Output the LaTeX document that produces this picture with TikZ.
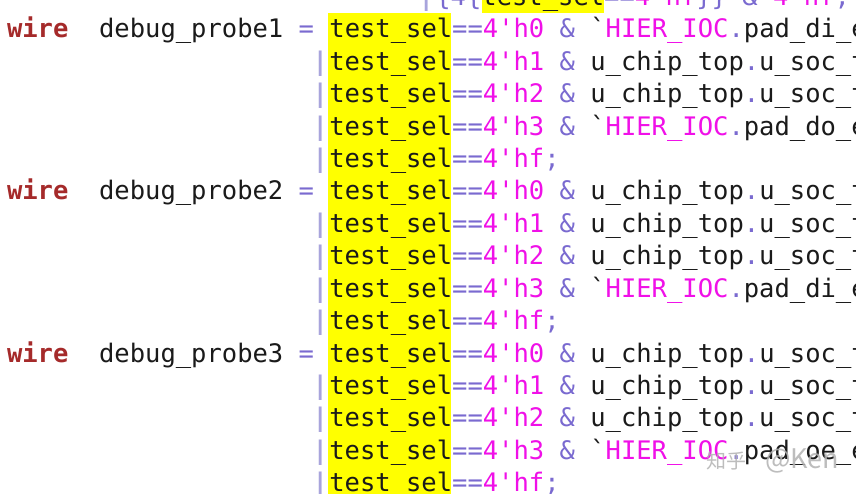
\documentclass[tikz,border=0pt]{standalone}
\usepackage{fontspec}
\newfontfamily\codefont{DejaVu Sans Mono}
\newfontfamily\markfont{Noto Sans CJK SC}
\definecolor{kw}{HTML}{A52A2A}
\definecolor{op}{HTML}{7A6AD0}
\definecolor{barc}{HTML}{A8A4DC}
\definecolor{num}{HTML}{F010E8}
\definecolor{txt}{HTML}{1A1A1A}
\definecolor{hl}{HTML}{FFFF00}
\tikzset{
  code/.style={anchor=base west,inner sep=0pt,outer sep=0pt,text=txt,font=\fontsize{25.5pt}{25.5pt}\selectfont\codefont},
  hlbox/.style={fill=hl,draw=none},
  wmark/.style={anchor=base west,inner sep=0pt,text=gray!60,text opacity=.85,font=\fontsize{20pt}{20pt}\selectfont\markfont}
}
\newlength{\cw}
\setlength{\cw}{15.35pt}
\newcommand{\Kw}{\textcolor{kw}{\textbf{wire}}}
\newcommand{\Op}[1]{\textcolor{op}{#1}}
\newcommand{\Nm}[1]{\textcolor{num}{#1}}
\newcommand{\Sel}{test\_sel}
\newcommand{\Cmp}[1]{\Sel\Op{==}\Nm{4'h#1}}
\newcommand{\Chip}{u\_chip\_top\Op{.}u\_soc\_t}
\newcommand{\Ioc}[1]{\symbol{96}\Nm{HIER\_IOC}\Op{.}pad\_#1\_e}
\newcommand{\Head}[1]{\Kw\ \ debug\_probe#1 \Op{=}\ }
\newcommand{\Pipe}{\makebox[\cw][c]{\hspace*{-3pt}\textcolor{barc}{\textbf{|}}}}
\newcommand{\Bar}{\hspace*{20\cw}\Pipe}
\begin{document}
\begin{tikzpicture}[x=1pt,y=-1pt]
\useasboundingbox (0,0) rectangle (856,494);
\clip (0,0) rectangle (856,494);
\fill[white] (0,0) rectangle (856,494);
\fill[hlbox] (481.5,0) rectangle (604,13);
\fill[hlbox] (328,13) rectangle (451,494);
\def\xs{7}
\node[code] (r0) at (420,6) {\Pipe\Op{\{4\{}\Sel\Op{==}\Nm{4'hf}\Op{\}\}}\ \Op{\&}\ \Nm{4'hf}\Op{;}};
\node[code] (r1) at (\xs,38) {\Head{1}\Cmp{0} \Op{\&} \Ioc{di}};
\node[code] (r2) at (\xs,70.4) {\Bar\Cmp{1} \Op{\&} \Chip};
\node[code] (r3) at (\xs,102.8) {\Bar\Cmp{2} \Op{\&} \Chip};
\node[code] (r4) at (\xs,135.2) {\Bar\Cmp{3} \Op{\&} \Ioc{do}};
\node[code] (r5) at (\xs,167.6) {\Bar\Cmp{f}\Op{;}};
\node[code] (r6) at (\xs,200) {\Head{2}\Cmp{0} \Op{\&} \Chip};
\node[code] (r7) at (\xs,232.4) {\Bar\Cmp{1} \Op{\&} \Chip};
\node[code] (r8) at (\xs,264.8) {\Bar\Cmp{2} \Op{\&} \Chip};
\node[code] (r9) at (\xs,297.2) {\Bar\Cmp{3} \Op{\&} \Ioc{di}};
\node[code] (r10) at (\xs,329.6) {\Bar\Cmp{f}\Op{;}};
\node[code] (r11) at (\xs,362) {\Head{3}\Cmp{0} \Op{\&} \Chip};
\node[code] (r12) at (\xs,394.4) {\Bar\Cmp{1} \Op{\&} \Chip};
\node[code] (r13) at (\xs,426.8) {\Bar\Cmp{2} \Op{\&} \Chip};
\node[code] (r14) at (\xs,459.2) {\Bar\Cmp{3} \Op{\&} \Ioc{oe}};
\node[code] (r15) at (\xs,491.6) {\Bar\Cmp{f}\Op{;}};
\node[wmark] (wm) at (706,468) {知乎\hspace{19pt}{\fontsize{27pt}{27pt}\selectfont @Ken}};
\end{tikzpicture}
\end{document}
